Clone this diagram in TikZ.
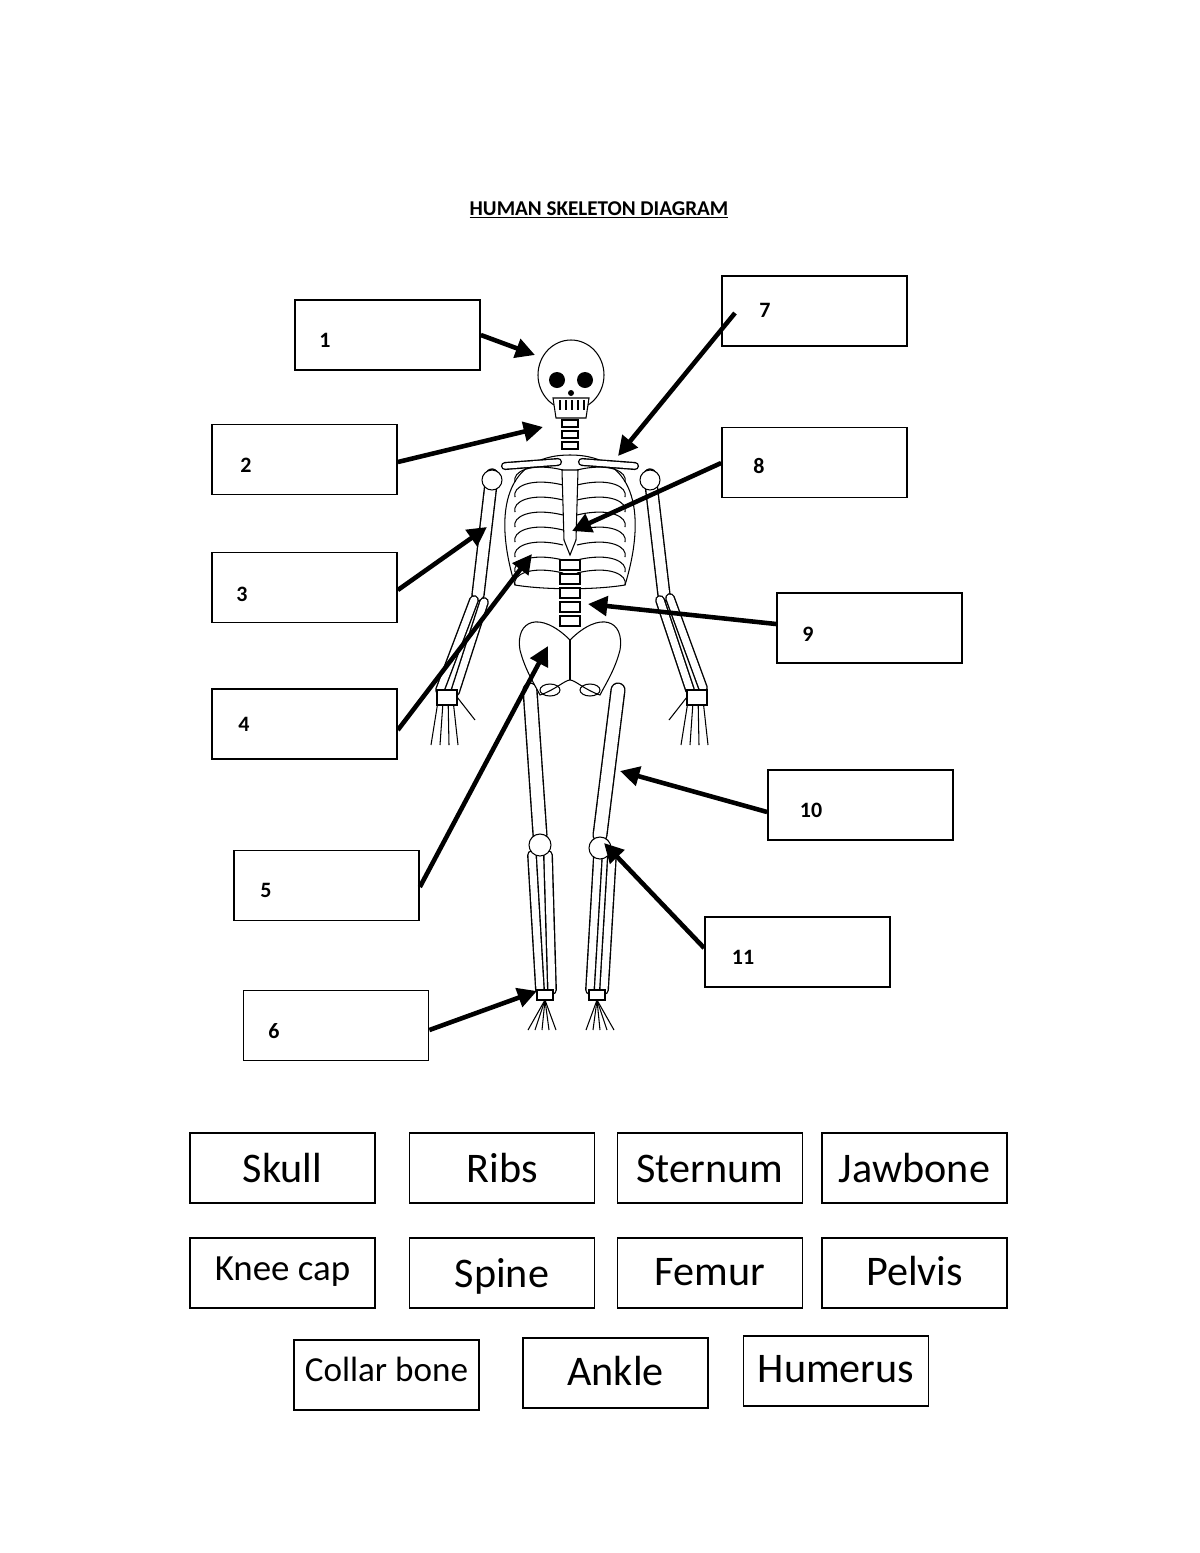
\documentclass[tikz,border=0pt]{standalone}
\usepackage{fontspec}
\setmainfont{Carlito}
\usetikzlibrary{arrows.meta}
\begin{document}
\begin{tikzpicture}[x=0.02cm,y=-0.02cm,
  box/.style={draw,line width=1pt,minimum width=3.7cm,minimum height=1.4cm,inner sep=0pt},
  wt/.style={anchor=base,inner sep=0pt,font=\fontsize{24}{28}\selectfont},
  num/.style={font=\fontsize{12.5}{14}\selectfont\bfseries},
  arr/.style={line width=2.6pt,-{Triangle[length=11pt,width=11pt]}},
  bone/.style={line width=0.8pt,double=white,double distance=4pt,line cap=round},
  thin/.style={line width=0.6pt}]
\fill[white] (0,0) rectangle (1200,1553);
\useasboundingbox (0,0) rectangle (1200,1553);
\node[font=\fontsize{12}{14}\selectfont\bfseries] (title) at (599,210) {\underline{HUMAN SKELETON DIAGRAM}};
% ---------- skeleton ----------
\draw[bone,double distance=7pt] (530,690) -- (540,835);
\draw[bone,double distance=7pt] (618,690) -- (600,835);
\draw[bone] (532,855) -- (540,990);
\draw[bone] (548,855) -- (552,990);
\draw[bone] (598,855) -- (590,990);
\draw[bone] (612,855) -- (604,990);
\draw[thin,fill=white] (540,845) circle (11);
\draw[thin,fill=white] (600,848) circle (11);
\foreach \x/\s in {545/-1,597/1}{
  \draw[thin,fill=white] (\x-8,990) rectangle (\x+8,1000);
  \foreach \d in {-14,-7,0,7,14}
    \draw[thin] (\x,1000) -- (\x+\d+\s*3,1030);
}
\draw[bone,double distance=6pt] (492,475) -- (478,595);
\draw[bone] (474,600) -- (440,690);
\draw[bone] (484,602) -- (455,692);
\draw[bone,double distance=6pt] (650,475) -- (664,595);
\draw[bone] (660,600) -- (690,690);
\draw[bone] (670,598) -- (703,688);
\foreach \x/\s in {447/-1,697/1}{
  \draw[thin,fill=white] (\x-10,690) rectangle (\x+10,705);
  \foreach \d in {-16,-7,2,11}
    \draw[thin] (\x+\d*0.6,705) -- (\x+\d,745);
  \draw[thin] (\x-\s*10,697) -- (\x-\s*28,720);
}
\draw[thin,fill=white] (492,480) circle (10);
\draw[thin,fill=white] (650,480) circle (10);
\draw[thin,fill=white] (570,455) .. controls (500,455) and (495,520) .. (515,585)
   .. controls (545,590) and (595,590) .. (625,585)
   .. controls (645,520) and (640,455) .. (570,455);
\foreach \y in {470,485,500,515,530,545,560,573}{
  \draw[thin] (563,\y) .. controls (530,\y-8) and (512,\y+2) .. (515,\y+12);
  \draw[thin] (577,\y) .. controls (610,\y-8) and (628,\y+2) .. (625,\y+12);
}
\draw[thin,fill=white] (562,470) -- (578,470) -- (576,540) -- (570,555) -- (564,540) -- cycle;
\draw[bone,double distance=3pt] (558,462) -- (505,466);
\draw[bone,double distance=3pt] (582,462) -- (635,466);
\foreach \y in {420,431,442}
  \draw[thin,fill=white] (562,\y) rectangle (578,\y+7);
\foreach \y in {560,574,588,602,616}
  \draw[thin,fill=white] (560,\y) rectangle (580,\y+10);
\draw[thin,fill=white] (570,640) .. controls (540,610) and (515,620) .. (520,650)
  .. controls (525,670) and (535,685) .. (540,695)
  .. controls (555,690) and (565,680) .. (570,680)
  .. controls (575,680) and (585,690) .. (600,695)
  .. controls (605,685) and (615,670) .. (620,650)
  .. controls (625,620) and (600,610) .. (570,640);
\draw[thin] (570,640) -- (570,680);
\draw[thin] (550,690) ellipse (10 and 6);
\draw[thin] (590,690) ellipse (10 and 6);
\draw[thin,fill=white] (571,375) ellipse (33 and 35);
\draw[thin,fill=white] (553,398) -- (589,398) -- (586,418) -- (556,418) -- cycle;
\fill (557,380) circle (8);
\fill (585,380) circle (8);
\fill (571,393) circle (3);
\foreach \x in {560,566,572,578,584} \draw[thin] (\x,400) -- (\x,410);
% ---------- label boxes ----------
\node[box] (b1) at (387.5,335) {}; \node[num] at (325,340) {1};
\node[box] (b2) at (304.5,459.5) {}; \node[num] at (246,465) {2};
\node[box] (b3) at (304.5,587.5) {}; \node[num] at (242,594) {3};
\node[box] (b4) at (304.5,724) {}; \node[num] at (244,724) {4};
\node[box] (b5) at (326.5,885.5) {}; \node[num] at (266,890) {5};
\node[box] (b6) at (336,1025.5) {}; \node[num] at (274,1031) {6};
\node[box] (b7) at (814.5,311) {}; \node[num] at (765,310) {7};
\node[box] (b8) at (814.5,462.5) {}; \node[num] at (759,466) {8};
\node[box] (b9) at (869.5,628) {}; \node[num] at (808,634) {9};
\node[box] (b10) at (860.5,805) {}; \node[num] at (811,810) {10};
\node[box] (b11) at (797.5,952) {}; \node[num] at (743,957) {11};
\coordinate (s7) at (735,313);
\coordinate (t1) at (535,355); \coordinate (t2) at (543,427);
\coordinate (t3) at (487,527); \coordinate (t4) at (532,554);
\coordinate (t5) at (548,646); \coordinate (t6) at (537,991);
\coordinate (t7) at (618,456); \coordinate (t8) at (572,531);
\coordinate (t9) at (588,604); \coordinate (t10) at (620,771);
\coordinate (t11) at (604,843);
\draw[arr] (b1.east |- 0,335) -- (t1);
\draw[arr] (b2.east |- 0,462) -- (t2);
\draw[arr] (b3.east |- 0,590) -- (t3);
\draw[arr] (b4.east |- 0,730) -- (t4);
\draw[arr] (b5.east |- 0,887) -- (t5);
\draw[arr] (b6.east |- 0,1030) -- (t6);
\draw[arr] (s7) -- (t7);
\draw[arr] (b8.west |- 0,463) -- (t8);
\draw[arr] (b9.west |- 0,624) -- (t9);
\draw[arr] (b10.west |- 0,812) -- (t10);
\draw[arr] (b11.west |- 0,948) -- (t11);
% ---------- word boxes ----------
\node[box] (w1) at (282.5,1168) {};  \node[wt] at (282.5,1182) {Skull};
\node[box] (w2) at (502,1168) {};    \node[wt] at (502,1182) {Ribs};
\node[box] (w3) at (710,1168) {};    \node[wt] at (710,1182) {Sternum};
\node[box] (w4) at (914.5,1168) {};  \node[wt] at (914.5,1182) {Jawbone};
\node[box] (w5) at (282.5,1273) {};  \node[wt,font=\fontsize{21}{26}\selectfont] at (282.5,1280) {Knee cap};
\node[box] (w6) at (502,1273) {};    \node[wt] at (502,1287) {Spine};
\node[box] (w7) at (710,1273) {};    \node[wt] at (710,1285) {Femur};
\node[box] (w8) at (914.5,1273) {};  \node[wt] at (914.5,1285) {Pelvis};
\node[box] (w9) at (386.5,1375) {};  \node[wt,font=\fontsize{20}{24}\selectfont] at (386.5,1381) {Collar bone};
\node[box] (w10) at (615.5,1373) {}; \node[wt] at (615.5,1385) {Ankle};
\node[box] (w11) at (836,1371) {};   \node[wt] at (836,1382) {Humerus};
\end{tikzpicture}
\end{document}
